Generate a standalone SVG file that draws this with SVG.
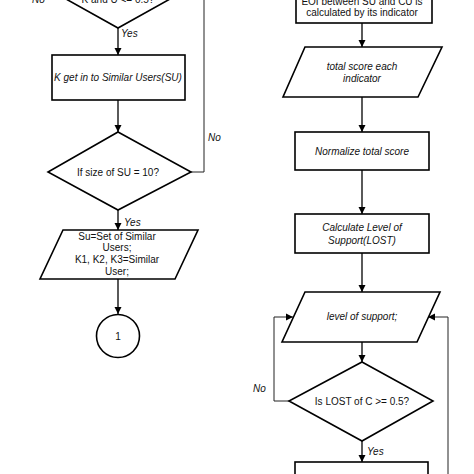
<svg xmlns="http://www.w3.org/2000/svg" width="474" height="474" viewBox="0 0 474 474">
<defs>
<marker id="ah" viewBox="0 0 10 10" refX="10" refY="5" markerWidth="7" markerHeight="8" markerUnits="userSpaceOnUse" orient="auto">
<path d="M0,0 L10,5 L0,10 z" fill="#000"/>
</marker>
</defs>
<style>
.s{fill:#fff;stroke:#000;stroke-width:1.6}
.c{fill:none;stroke:#000;stroke-width:1.3}
.l{fill:none;stroke:#222;stroke-width:1}
text{font-family:"Liberation Sans",Arial,sans-serif;font-size:10px;fill:#111;text-anchor:middle}
.i{font-style:italic}
.lb{text-anchor:start;font-style:italic}
</style>
<rect width="474" height="474" fill="#fff"/>
<g id="connectors">
<line class="c" x1="118" y1="28" x2="118" y2="55" marker-end="url(#ah)"/>
<line class="c" x1="118" y1="100" x2="118" y2="132" marker-end="url(#ah)"/>
<polyline class="l" points="191,172 204,172 204,-5"/>
<line class="c" x1="118" y1="210" x2="118" y2="230" marker-end="url(#ah)"/>
<line class="c" x1="118" y1="279" x2="118" y2="314" marker-end="url(#ah)"/>
<line class="c" x1="362" y1="23" x2="362" y2="47" marker-end="url(#ah)"/>
<line class="c" x1="362" y1="97" x2="362" y2="132" marker-end="url(#ah)"/>
<line class="c" x1="362" y1="170" x2="362" y2="214" marker-end="url(#ah)"/>
<line class="c" x1="362" y1="253" x2="362" y2="292" marker-end="url(#ah)"/>
<line class="c" x1="362" y1="342" x2="362" y2="362" marker-end="url(#ah)"/>
<line class="c" x1="362" y1="441" x2="362" y2="462" marker-end="url(#ah)"/>
<polyline class="l" points="289,401 274,401 274,317 293,317" marker-end="url(#ah)"/>
<polyline class="l" points="448,480 448,317 428,317" marker-end="url(#ah)"/>
<text class="lb" x="32" y="3">No</text>
<text class="lb" x="121" y="37">Yes</text>
<text class="lb" x="208" y="141">No</text>
<text class="lb" x="124" y="226">Yes</text>
<text class="lb" x="253" y="392">No</text>
<text class="lb" x="367" y="455">Yes</text>
</g>
<g id="d1">
<polygon class="s" points="118,-30 170,-1 118,28 66,-1"/>
<text x="118" y="2.5">K and U &lt;= 0.5?</text>
</g>
<g id="p1">
<rect class="s" x="52" y="55" width="133" height="45"/>
<text class="i" x="118" y="81">K get in to Similar Users(SU)</text>
</g>
<g id="d2">
<polygon class="s" points="118,132 191,172 118,210 48,172"/>
<text x="118" y="176">If size of SU = 10?</text>
</g>
<g id="io1">
<polygon class="s" points="63,230 198,230 175,279 40,279"/>
<text x="117" y="240">Su=Set of Similar</text>
<text x="117" y="251">Users;</text>
<text x="117" y="263">K1, K2, K3=Similar</text>
<text x="117" y="275">User;</text>
</g>
<g id="c1">
<circle class="s" cx="118" cy="336" r="21.5"/>
<text x="118" y="340">1</text>
</g>
<g id="r1">
<rect class="s" x="296" y="-20" width="136" height="43"/>
<text x="362" y="4.5">EOI between SU and CU is</text>
<text x="362" y="16">calculated by its indicator</text>
</g>
<g id="io2">
<polygon class="s" points="305,47 442,47 418,97 283,97"/>
<text class="i" x="362" y="70">total score each</text>
<text class="i" x="362" y="82">indicator</text>
</g>
<g id="r2">
<rect class="s" x="295" y="132" width="134" height="38"/>
<text class="i" x="362" y="155">Normalize total score</text>
</g>
<g id="r3">
<rect class="s" x="295" y="214" width="134" height="39"/>
<text class="i" x="362" y="231">Calculate Level of</text>
<text class="i" x="362" y="244">Support(LOST)</text>
</g>
<g id="io3">
<polygon class="s" points="305,292 440,292 417,342 282,342"/>
<text class="i" x="362" y="320">level of support;</text>
</g>
<g id="d3">
<polygon class="s" points="362,362 433,401 362,441 289,401"/>
<text x="362" y="405">Is LOST of C &gt;= 0.5?</text>
</g>
<g id="r4">
<rect class="s" x="295" y="462" width="133" height="30"/>
</g>
</svg>
